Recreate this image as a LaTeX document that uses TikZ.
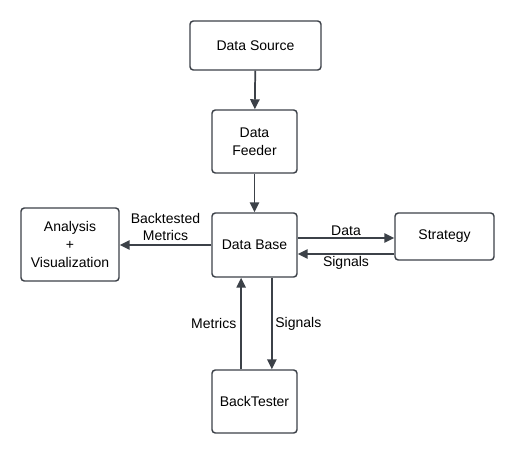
\documentclass[tikz,border=0pt]{standalone}
\usepackage{fontspec}
\setmainfont{Liberation Sans}
\usetikzlibrary{calc, positioning}
\usetikzlibrary{arrows.meta}

\definecolor{linegray}{HTML}{3C4148}

\tikzset{
  box/.style={draw=linegray, line width=1.1pt, rounded corners=2.5pt,
    align=center, font=\fontsize{10.5}{13.5}\selectfont, inner sep=2pt},
  flow/.style={draw=linegray, line width=1.3pt,
    -{Triangle[length=7.5pt,width=7pt]}},
  lbl/.style={font=\fontsize{10.5}{12.5}\selectfont, align=center, inner sep=2pt}
}

\begin{document}
\begin{tikzpicture}[x=0.75pt,y=-0.75pt]
\useasboundingbox (0,0) rectangle (515,455);

\node[box, minimum width=98.25pt, minimum height=36.75pt] (src) at (255.5,45.5) {Data Source};
\node[box, minimum width=63.75pt, minimum height=47.25pt] (feed) at (254.5,141.5) {Data\\Feeder};
\node[box, minimum width=63.75pt, minimum height=48pt] (db) at (254.5,245) {Data Base};
\node[box, minimum width=73.5pt, minimum height=54.75pt] (ana) at (70,244.5) {Analysis\\+\\Visualization};
\node[box, minimum width=74.25pt, minimum height=35.25pt] (strat) at (444.5,236.5) {Strategy};
\node[box, minimum width=63.75pt, minimum height=47.25pt] (bt) at (254.5,401.5) {BackTester};

\draw[flow] (src) -- (feed);
\draw[flow] (feed) -- (db);
\draw[flow] (db.west) -- (db.west -| ana.east)
    node[lbl, midway, above=1pt] {Backtested\\Metrics};
\draw[flow] ([yshift=5.25pt]db.east) -- ([yshift=5.25pt]db.east -| strat.west)
    node[lbl, midway, above=-1pt] {Data};
\draw[flow] ([yshift=-6.75pt]db.east -| strat.west) -- ([yshift=-6.75pt]db.east)
    node[lbl, midway, below=-1pt] {Signals};
\draw[flow] ([xshift=-10pt]bt.north) -- ([xshift=-10pt]db.south)
    node[lbl, midway, left=1pt] {Metrics};
\draw[flow] ([xshift=13pt]db.south) -- ([xshift=13pt]bt.north)
    node[lbl, midway, right=0pt] {Signals};
\end{tikzpicture}
\end{document}
